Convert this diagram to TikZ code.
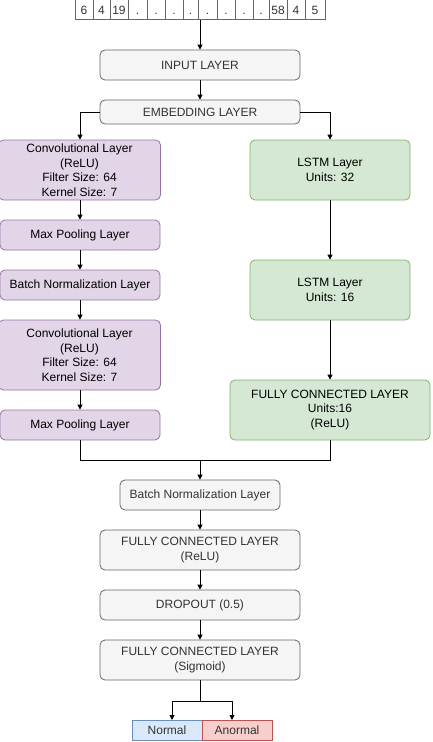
\documentclass[tikz,border=0pt]{standalone}
\usepackage{fontspec}
\setmainfont{Liberation Sans}
\usetikzlibrary{arrows.meta}
\definecolor{grayfill}{HTML}{F5F5F5}
\definecolor{graystroke}{HTML}{666666}
\definecolor{graytext}{HTML}{333333}
\definecolor{purfill}{HTML}{E1D5E7}
\definecolor{purstroke}{HTML}{9673A6}
\definecolor{grnfill}{HTML}{D5E8D4}
\definecolor{grnstroke}{HTML}{82B366}
\definecolor{bluefill}{HTML}{DAE8FC}
\definecolor{bluestroke}{HTML}{6C8EBF}
\definecolor{redfill}{HTML}{F8CECC}
\definecolor{redstroke}{HTML}{B85450}
\tikzset{
  layer/.style={draw=graystroke, fill=grayfill, text=graytext, rounded corners=5pt, line width=0.8pt, align=center, font=\fontsize{12}{14.5}\selectfont, inner sep=0pt},
  conv/.style={layer, draw=purstroke, fill=purfill, text=black},
  lstm/.style={layer, draw=grnstroke, fill=grnfill, text=black},
  cell/.style={draw=graystroke, fill=white, text=graytext, line width=0.6pt, inner sep=0pt, text height=19pt, text depth=0pt, font=\fontsize{12}{14.5}\selectfont},
  outbox/.style={draw, line width=0.8pt, inner sep=0pt, text=graytext, font=\fontsize{12}{14.5}\selectfont},
  conn/.style={draw=black, line width=0.9pt, -{Triangle[length=5pt,width=5pt]}},
  plain/.style={draw=black, line width=0.9pt}
}
\begin{document}
\begin{tikzpicture}[x=1pt,y=-1pt]
\useasboundingbox (0,0) rectangle (432,742);
% input array
\foreach \a/\b/\t [count=\i] in {75/93/6,93/110/4,110/128/19,128/147/.,147/165/.,165/183/.,183/198/.,198/217/.,217/235/.,235/253/.,253/269/.,269/287/58,287/305/4,305/325/5}{
  \node[cell, minimum width=\b pt-\a pt, minimum height=29pt] (c\i) at ({(\a+\b)/2},5) {\t};
}
\coordinate (arr) at (200,19.5);
% main column
\node[layer, minimum width=200pt, minimum height=30pt] (input) at (200,65) {INPUT LAYER};
\node[layer, minimum width=200pt, minimum height=24pt] (embed) at (200,112) {EMBEDDING LAYER};
% conv branch
\node[conv, minimum width=162pt, minimum height=60pt] (conv1) at (79.5,170) {Convolutional Layer\\(ReLU)\\Filter Size: 64\\Kernel Size: 7};
\node[conv, minimum width=160pt, minimum height=30pt] (pool1) at (80,235) {Max Pooling Layer};
\node[conv, minimum width=160pt, minimum height=30pt] (bn1) at (80,285) {Batch Normalization Layer};
\node[conv, minimum width=162pt, minimum height=70pt] (conv2) at (79.5,355) {Convolutional Layer\\(ReLU)\\Filter Size: 64\\Kernel Size: 7};
\node[conv, minimum width=160pt, minimum height=30pt] (pool2) at (80,425) {Max Pooling Layer};
% lstm branch
\node[lstm, minimum width=160pt, minimum height=60pt] (lstm1) at (330,170) {LSTM Layer\\Units: 32};
\node[lstm, minimum width=160pt, minimum height=60pt] (lstm2) at (330,290) {LSTM Layer\\Units: 16};
\node[lstm, minimum width=200pt, minimum height=60pt] (fc0) at (330,410) {FULLY CONNECTED LAYER\\Units:16\\(ReLU)};
% merged
\node[layer, minimum width=160pt, minimum height=30pt] (bn2) at (200,495) {Batch Normalization Layer};
\node[layer, minimum width=200pt, minimum height=40pt] (fc1) at (200,550) {FULLY CONNECTED LAYER\\(ReLU)};
\node[layer, minimum width=200pt, minimum height=30pt] (drop) at (200,605) {DROPOUT (0.5)};
\node[layer, minimum width=200pt, minimum height=40pt] (fc2) at (200,660) {FULLY CONNECTED LAYER\\(Sigmoid)};
\node[outbox, draw=bluestroke, fill=bluefill, minimum width=70pt, minimum height=20pt] (normal) at (167,730) {Normal};
\node[outbox, draw=redstroke, fill=redfill, minimum width=70pt, minimum height=20pt] (anormal) at (237,730) {Anormal};
% connectors
\draw[conn] (arr) -- (input.north);
\draw[conn] (input.south) -- (embed.north);
\draw[conn] (embed.west) -| (conv1.north -| 80,0);
\draw[conn] (embed.east) -| (lstm1.north);
\draw[conn] (conv1.south -| 80,0) -- (pool1.north);
\draw[conn] (pool1.south) -- (bn1.north);
\draw[conn] (bn1.south) -- (conv2.north -| 80,0);
\draw[conn] (conv2.south -| 80,0) -- (pool2.north);
\draw[conn] (lstm1.south) -- (lstm2.north);
\draw[conn] (lstm2.south) -- (fc0.north);
\coordinate (m) at (200,460);
\draw[plain] (pool2.south) |- (m);
\draw[plain] (fc0.south) |- (m);
\draw[conn] (m) -- (bn2.north);
\draw[conn] (bn2.south) -- (fc1.north);
\draw[conn] (fc1.south) -- (drop.north);
\draw[conn] (drop.south) -- (fc2.north);
\coordinate (s) at (200,701);
\draw[plain] (fc2.south) -- (s);
\draw[conn] (s) -| (172,720);
\draw[conn] (s) -| (232,720);
\end{tikzpicture}
\end{document}
